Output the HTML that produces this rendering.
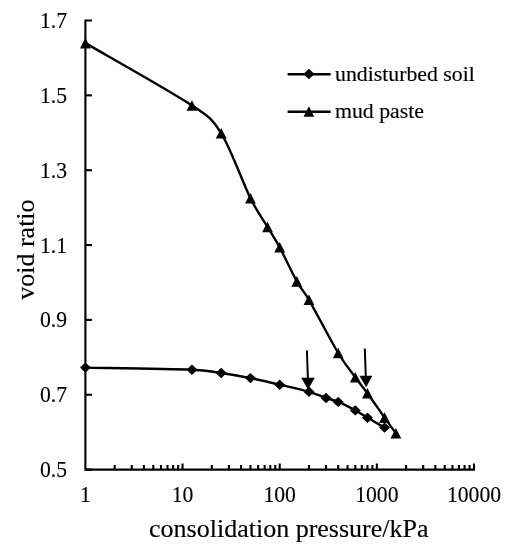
<!DOCTYPE html>
<html><head><meta charset="utf-8"><style>
html,body{margin:0;padding:0;background:#fff;}
body{width:511px;height:550px;overflow:hidden;}
svg{display:block;}
</style></head><body>
<svg width="511" height="550" viewBox="0 0 511 550"><g stroke="#000" stroke-width="2.1" fill="none" stroke-linejoin="miter"><path d="M91.9 20.50H85.40V469.60H474.00V463.5"/><path d="M85.40 469.60H91.9"/><path d="M85.40 394.75H91.9"/><path d="M85.40 319.90H91.9"/><path d="M85.40 245.05H91.9"/><path d="M85.40 170.20H91.9"/><path d="M85.40 95.35H91.9"/><path d="M114.65 469.60V465"/><path d="M131.75 469.60V465"/><path d="M143.89 469.60V465"/><path d="M153.30 469.60V465"/><path d="M161.00 469.60V465"/><path d="M167.50 469.60V465"/><path d="M173.14 469.60V465"/><path d="M178.10 469.60V465"/><path d="M182.55 469.60V463.5"/><path d="M211.80 469.60V465"/><path d="M228.90 469.60V465"/><path d="M241.04 469.60V465"/><path d="M250.45 469.60V465"/><path d="M258.15 469.60V465"/><path d="M264.65 469.60V465"/><path d="M270.29 469.60V465"/><path d="M275.25 469.60V465"/><path d="M279.70 469.60V463.5"/><path d="M308.95 469.60V465"/><path d="M326.05 469.60V465"/><path d="M338.19 469.60V465"/><path d="M347.60 469.60V465"/><path d="M355.30 469.60V465"/><path d="M361.80 469.60V465"/><path d="M367.44 469.60V465"/><path d="M372.40 469.60V465"/><path d="M376.85 469.60V463.5"/><path d="M406.10 469.60V465"/><path d="M423.20 469.60V465"/><path d="M435.34 469.60V465"/><path d="M444.75 469.60V465"/><path d="M452.45 469.60V465"/><path d="M458.95 469.60V465"/><path d="M464.59 469.60V465"/><path d="M469.55 469.60V465"/></g><g stroke="#000" stroke-width="2.4" fill="none" stroke-linejoin="round"><path d="M85.40 367.60 C103.16 367.95 169.33 368.80 191.96 369.70 C206.67 370.28 211.46 371.60 221.21 373.00 C230.96 374.40 240.71 376.15 250.45 378.10 C260.20 380.05 269.95 382.42 279.70 384.70 C289.45 386.98 301.22 389.58 308.95 391.80 C316.67 394.02 321.18 396.32 326.05 398.00 C330.93 399.68 333.32 399.83 338.19 401.90 C343.06 403.97 350.42 407.75 355.30 410.40 C360.17 413.05 362.56 414.93 367.44 417.80 C372.31 420.67 381.69 425.97 384.54 427.60"/><path d="M85.40 43.10 C103.16 53.49 169.33 90.42 191.96 105.45 C208.79 116.62 211.46 117.83 221.21 133.30 C230.96 148.78 242.73 182.68 250.45 198.30 C257.86 213.27 262.69 218.83 267.56 227.00 C272.44 235.17 274.83 238.23 279.70 247.30 C284.57 256.37 291.93 272.65 296.81 281.40 C301.68 290.15 303.43 290.26 308.95 299.80 C315.84 311.73 330.46 340.08 338.19 353.00 C345.82 365.75 350.42 370.60 355.30 377.30 C360.17 384.00 362.56 386.48 367.44 393.20 C372.31 399.92 379.80 410.92 384.54 417.60 C389.29 424.28 394.01 430.68 395.90 433.30"/></g><g fill="#000"><path d="M85.40 362.40L90.90 367.60L85.40 372.80L79.90 367.60Z"/><path d="M191.96 364.50L197.46 369.70L191.96 374.90L186.46 369.70Z"/><path d="M221.21 367.80L226.71 373.00L221.21 378.20L215.71 373.00Z"/><path d="M250.45 372.90L255.95 378.10L250.45 383.30L244.95 378.10Z"/><path d="M279.70 379.50L285.20 384.70L279.70 389.90L274.20 384.70Z"/><path d="M308.95 386.60L314.45 391.80L308.95 397.00L303.45 391.80Z"/><path d="M326.05 392.80L331.55 398.00L326.05 403.20L320.55 398.00Z"/><path d="M338.19 396.70L343.69 401.90L338.19 407.10L332.69 401.90Z"/><path d="M355.30 405.20L360.80 410.40L355.30 415.60L349.80 410.40Z"/><path d="M367.44 412.60L372.94 417.80L367.44 423.00L361.94 417.80Z"/><path d="M384.54 422.40L390.04 427.60L384.54 432.80L379.04 427.60Z"/><path d="M85.40 37.80L90.80 48.40L80.00 48.40Z"/><path d="M191.96 100.15L197.36 110.75L186.56 110.75Z"/><path d="M221.21 128.00L226.61 138.60L215.81 138.60Z"/><path d="M250.45 193.00L255.85 203.60L245.05 203.60Z"/><path d="M267.56 221.70L272.96 232.30L262.16 232.30Z"/><path d="M279.70 242.00L285.10 252.60L274.30 252.60Z"/><path d="M296.81 276.10L302.21 286.70L291.41 286.70Z"/><path d="M308.95 294.50L314.35 305.10L303.55 305.10Z"/><path d="M338.19 347.70L343.59 358.30L332.79 358.30Z"/><path d="M355.30 372.00L360.70 382.60L349.90 382.60Z"/><path d="M367.44 387.90L372.84 398.50L362.04 398.50Z"/><path d="M384.54 412.30L389.94 422.90L379.14 422.90Z"/><path d="M395.90 428.00L401.30 438.60L390.50 438.60Z"/></g><g stroke="#000" stroke-width="2" fill="none"><path d="M306.9 350.4L307.9 379"/><path d="M364.8 348.5L365.8 377"/></g><g fill="#000"><path d="M301.2 377.8H314.8L308 389.6Z"/><path d="M359.4 375.8H372.4L366.2 387.2Z"/></g><g stroke="#000" stroke-width="2.4"><path d="M287.6 74.2H330.7"/><path d="M287.6 111.8H330.7"/></g><g fill="#000"><path d="M308.90 68.80L314.40 74.00L308.90 79.20L303.40 74.00Z"/><path d="M308.90 106.20L314.30 116.80L303.50 116.80Z"/></g><g font-family="Liberation Serif, Times New Roman, serif" font-size="22" fill="#000" stroke="#000" stroke-width="0.15"><text transform="translate(67.0 477.10) scale(0.95 1)" font-size="22.8" text-anchor="end">0.5</text><text transform="translate(67.0 402.25) scale(0.95 1)" font-size="22.8" text-anchor="end">0.7</text><text transform="translate(67.0 327.40) scale(0.95 1)" font-size="22.8" text-anchor="end">0.9</text><text transform="translate(67.0 252.55) scale(0.95 1)" font-size="22.8" text-anchor="end">1.1</text><text transform="translate(67.0 177.70) scale(0.95 1)" font-size="22.8" text-anchor="end">1.3</text><text transform="translate(67.0 102.85) scale(0.95 1)" font-size="22.8" text-anchor="end">1.5</text><text transform="translate(67.0 28.00) scale(0.95 1)" font-size="22.8" text-anchor="end">1.7</text><text transform="translate(85.40 502.4) scale(0.95 1)" font-size="22.8" text-anchor="middle">1</text><text transform="translate(182.55 502.4) scale(0.95 1)" font-size="22.8" text-anchor="middle">10</text><text transform="translate(279.70 502.4) scale(0.95 1)" font-size="22.8" text-anchor="middle">100</text><text transform="translate(376.85 502.4) scale(0.95 1)" font-size="22.8" text-anchor="middle">1000</text><text transform="translate(474.00 502.4) scale(0.95 1)" font-size="22.8" text-anchor="middle">10000</text><text x="335" y="80.5" font-size="21.8">undisturbed soil</text><text x="335" y="118.3" font-size="21.8">mud paste</text></g><g font-family="Liberation Serif, Times New Roman, serif" font-size="26.0" fill="#000" stroke="#000" stroke-width="0.15"><text x="288.8" y="537" text-anchor="middle">consolidation pressure/kPa</text><text transform="translate(34.3 249.6) rotate(-90)" text-anchor="middle">void ratio</text></g></svg>
</body></html>
